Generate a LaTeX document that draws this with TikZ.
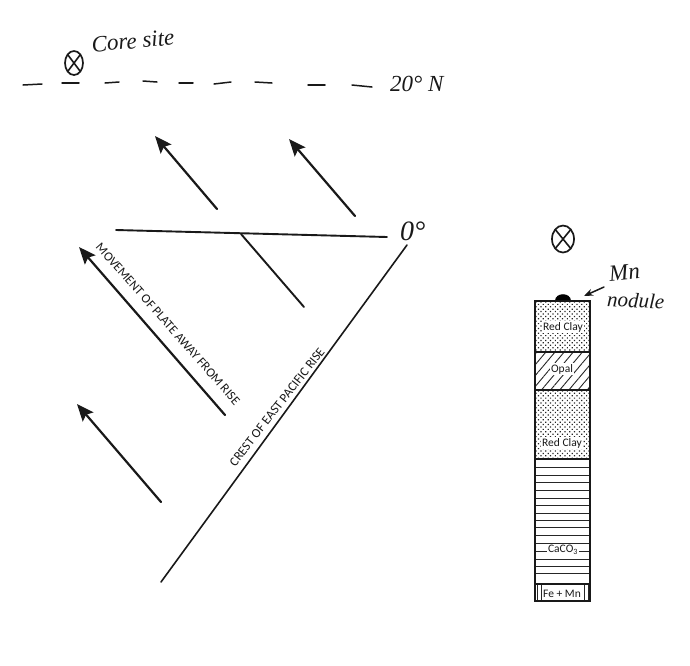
\documentclass[tikz,border=0pt]{standalone}
\usepackage{fontspec}
\usetikzlibrary{patterns,patterns.meta,arrows.meta,shapes.geometric}
\setmainfont{Carlito}
\newfontfamily\handfont{Liberation Serif}[ItalicFont={Liberation Serif Italic}]
\tikzset{
  px/.style={x=1pt,y=-1pt},
  ink/.style={draw=black!90,line cap=round},
  platearrow/.style={ink,line width=2.2pt,-{Stealth[length=17pt,width=14pt,inset=3pt]}},
  plateline/.style={ink,line width=1.9pt},
  latdash/.style={ink,line width=1.5pt},
  printed/.style={font=\fontsize{12.9}{13}\selectfont,text=black!90,inner sep=0pt},
  hand/.style={font=\handfont\itshape\fontsize{23}{23}\selectfont,text=black!90,inner sep=0pt},
  layerlabel/.style={font=\fontsize{11.5}{12}\selectfont,text=black!90,fill=white,inner sep=1pt},
  sitemark/.style={ellipse,draw=black!90,line width=1.7pt,inner sep=0pt,
    path picture={\draw[black!90,line width=1.6pt]
      (path picture bounding box.north west)--(path picture bounding box.south east)
      (path picture bounding box.north east)--(path picture bounding box.south west);}},
  layer/.style={draw=black!90,line width=1.4pt},
  dotfill/.style={pattern={Dots[distance=3.4pt,radius=.85pt,angle=45]},pattern color=black!85},
}
\begin{document}
\begin{tikzpicture}[px]
\useasboundingbox (0,0) rectangle (690,665);
% top: latitude and core site
\node[sitemark,minimum width=18pt,minimum height=24pt] (site) at (74,63) {};
\node[hand,rotate=5] (coretext) at (133,41) {Core site};
\foreach \n/\xa/\ya/\xb/\yb in {a/23/85/42/84,b/62/83/79/83,c/105/83/119/82,d/143/81/157/82,e/179/83/193/83,f/214/84/231/82,g/255/82/272/83,h/308/85/325/85,i/352/85/372/87}{
  \coordinate (d\n1) at (\xa,\ya);
  \coordinate (d\n2) at (\xb,\yb);
  \draw[latdash] (d\n1) -- (d\n2);
}
\node[hand,anchor=west] (lat) at (390,84) {20° N};
% plate arrows
\coordinate (a1s) at (217,209); \coordinate (a1e) at (155,136);
\coordinate (a2s) at (355,216); \coordinate (a2e) at (289,139);
\coordinate (a3s) at (225,415); \coordinate (a3e) at (79,247);
\coordinate (a4s) at (161,502); \coordinate (a4e) at (77,404);
\draw[platearrow] (a1s) -- (a1e);
\draw[platearrow] (a2s) -- (a2e);
\draw[platearrow] (a3s) -- (a3e);
\draw[platearrow] (a4s) -- (a4e);
% ridge and transform
\coordinate (r1) at (116,230); \coordinate (r2) at (387,237);
\coordinate (b1) at (241,234); \coordinate (b2) at (304,307);
\coordinate (c1) at (407,245); \coordinate (c2) at (161,582);
\draw[plateline] (r1) -- (r2);
\draw[plateline] (b1) -- (b2);
\draw[ink,line width=1.6pt] (c1) -- (c2);
\node[hand,font=\handfont\itshape\fontsize{28}{28}\selectfont,anchor=west] (zero) at (400,231) {0°};
\node[printed,rotate=-48.6] (movement) at (168,324) {MOVEMENT OF PLATE AWAY FROM RISE};
\node[printed,rotate=52] (crest) at (277,407) {CREST OF EAST PACIFIC RISE};
% core column
\node[sitemark,minimum width=22pt,minimum height=27pt] (site2) at (563,239) {};
\fill[black] (555,301) .. controls (555,292) and (571,292) .. (571,301) -- cycle;
\node[hand,anchor=west,rotate=6] (mn) at (609,274) {Mn};
\node[hand,font=\handfont\itshape\fontsize{21}{21}\selectfont,anchor=west,rotate=-3] (nodule) at (607,299) {nodule};
\coordinate (na) at (604,287); \coordinate (nb) at (584,296);
\draw[ink,line width=1.5pt,-{Stealth[length=9pt,width=7pt,open]}] (na) -- (nb);
% layers
\path[dotfill] (535,301) rectangle (590,352);
\path[pattern={Lines[angle=50,distance=7pt,line width=.9pt]},pattern color=black!85] (535,352) rectangle (590,390);
\path[dotfill] (535,390) rectangle (590,459);
\foreach \y in {467,475,482,490,498,505,513,520,527,535,543,551,559,566,573}{
  \draw[black!85,line width=1pt] (535,\y) -- (590,\y);
}
\foreach \x in {537,541,584,588}{
  \draw[black!85,line width=1pt] (\x,584) -- (\x,601);
}
\draw[layer,line width=1.8pt] (535,301) rectangle (590,601);
\draw[layer] (535,352) -- (590,352);
\draw[layer] (535,390) -- (590,390);
\draw[layer] (535,459) -- (590,459);
\draw[layer] (535,584) -- (590,584);
\node[layerlabel] (rc1) at (563,327) {Red Clay};
\node[layerlabel] (opal) at (562,369) {Opal};
\node[layerlabel] (rc2) at (562,443) {Red Clay};
\node[layerlabel] (caco) at (563,550) {CaCO\textsubscript{3}};
\node[layerlabel] (fe) at (562,594) {Fe + Mn};
\end{tikzpicture}
\end{document}
